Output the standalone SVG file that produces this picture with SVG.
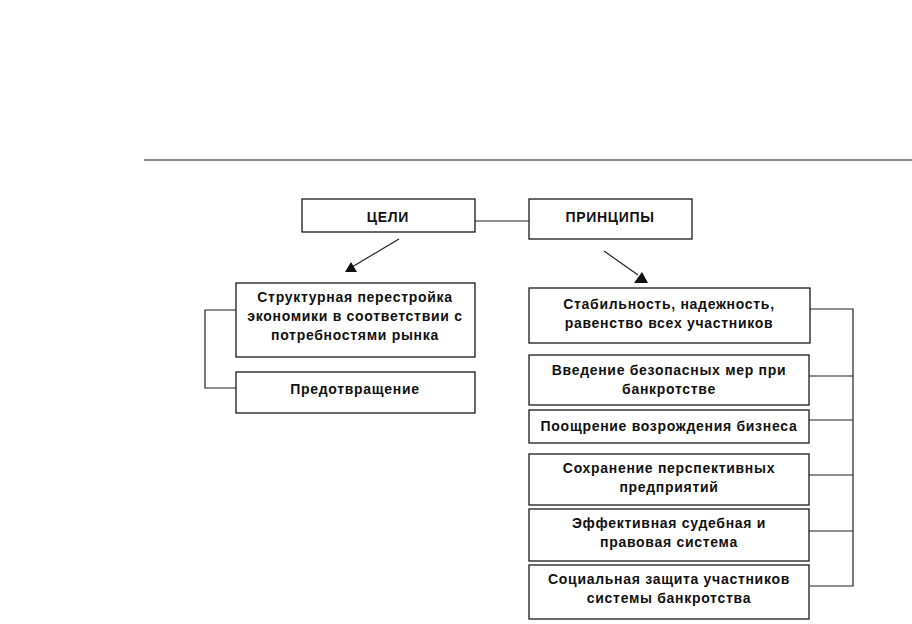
<svg xmlns="http://www.w3.org/2000/svg" width="912" height="624" viewBox="0 0 912 624">
<style>
.box{fill:#fff;stroke:#1a1a1a;stroke-width:1.3}
.t{font-family:"Liberation Sans",Arial,sans-serif;font-weight:bold;font-size:14px;fill:#111;text-anchor:middle;letter-spacing:0.7px}
.c{fill:none;stroke:#222;stroke-width:1.2}
</style>
<rect width="912" height="624" fill="#fff"/>
<line x1="144" y1="160" x2="912" y2="160" stroke="#111" stroke-width="1.2"/>
<g id="connectors">
<line class="c" x1="475" y1="221" x2="529" y2="221"/>
<line class="c" x1="399" y1="239" x2="352" y2="267"/>
<polygon points="345,272 357,272 351,262" fill="#111"/>
<line class="c" x1="604" y1="251" x2="638" y2="275"/>
<polygon points="634,283 648,283 642,272" fill="#111"/>
<polyline class="c" points="236,310 205,310 205,388 236,388"/>
<polyline class="c" points="810,309 853,309 853,586 810,586"/>
<line class="c" x1="809" y1="376" x2="853" y2="376"/>
<line class="c" x1="809" y1="420" x2="853" y2="420"/>
<line class="c" x1="809" y1="475" x2="853" y2="475"/>
<line class="c" x1="809" y1="531" x2="853" y2="531"/>
</g>
<g id="goals">
<rect class="box" x="302" y="199" width="173" height="33"/>
<text class="t" x="388" y="222">ЦЕЛИ</text>
</g>
<g id="principles">
<rect class="box" x="529" y="199" width="163" height="40"/>
<text class="t" x="610" y="222">ПРИНЦИПЫ</text>
</g>
<g id="goal1">
<rect class="box" x="236" y="283" width="239" height="74"/>
<text class="t" x="355" y="302">Структурная перестройка</text>
<text class="t" x="355" y="321">экономики в соответствии с</text>
<text class="t" x="355" y="340">потребностями рынка</text>
</g>
<g id="goal2">
<rect class="box" x="236" y="372" width="239" height="41"/>
<text class="t" x="355" y="394">Предотвращение</text>
</g>
<g id="p1">
<rect class="box" x="529" y="288" width="281" height="55"/>
<text class="t" x="669" y="309">Стабильность, надежность,</text>
<text class="t" x="669" y="328">равенство всех участников</text>
</g>
<g id="p2">
<rect class="box" x="529" y="355" width="280" height="50"/>
<text class="t" x="669" y="375">Введение безопасных мер при</text>
<text class="t" x="669" y="394">банкротстве</text>
</g>
<g id="p3">
<rect class="box" x="529" y="410" width="280" height="33"/>
<text class="t" x="669" y="431">Поощрение возрождения бизнеса</text>
</g>
<g id="p4">
<rect class="box" x="529" y="454" width="280" height="51"/>
<text class="t" x="669" y="473">Сохранение перспективных</text>
<text class="t" x="669" y="492">предприятий</text>
</g>
<g id="p5">
<rect class="box" x="529" y="509" width="280" height="52"/>
<text class="t" x="669" y="528">Эффективная судебная и</text>
<text class="t" x="669" y="547">правовая система</text>
</g>
<g id="p6">
<rect class="box" x="529" y="565" width="280" height="54"/>
<text class="t" x="669" y="584">Социальная защита участников</text>
<text class="t" x="669" y="603">системы банкротства</text>
</g>
</svg>
